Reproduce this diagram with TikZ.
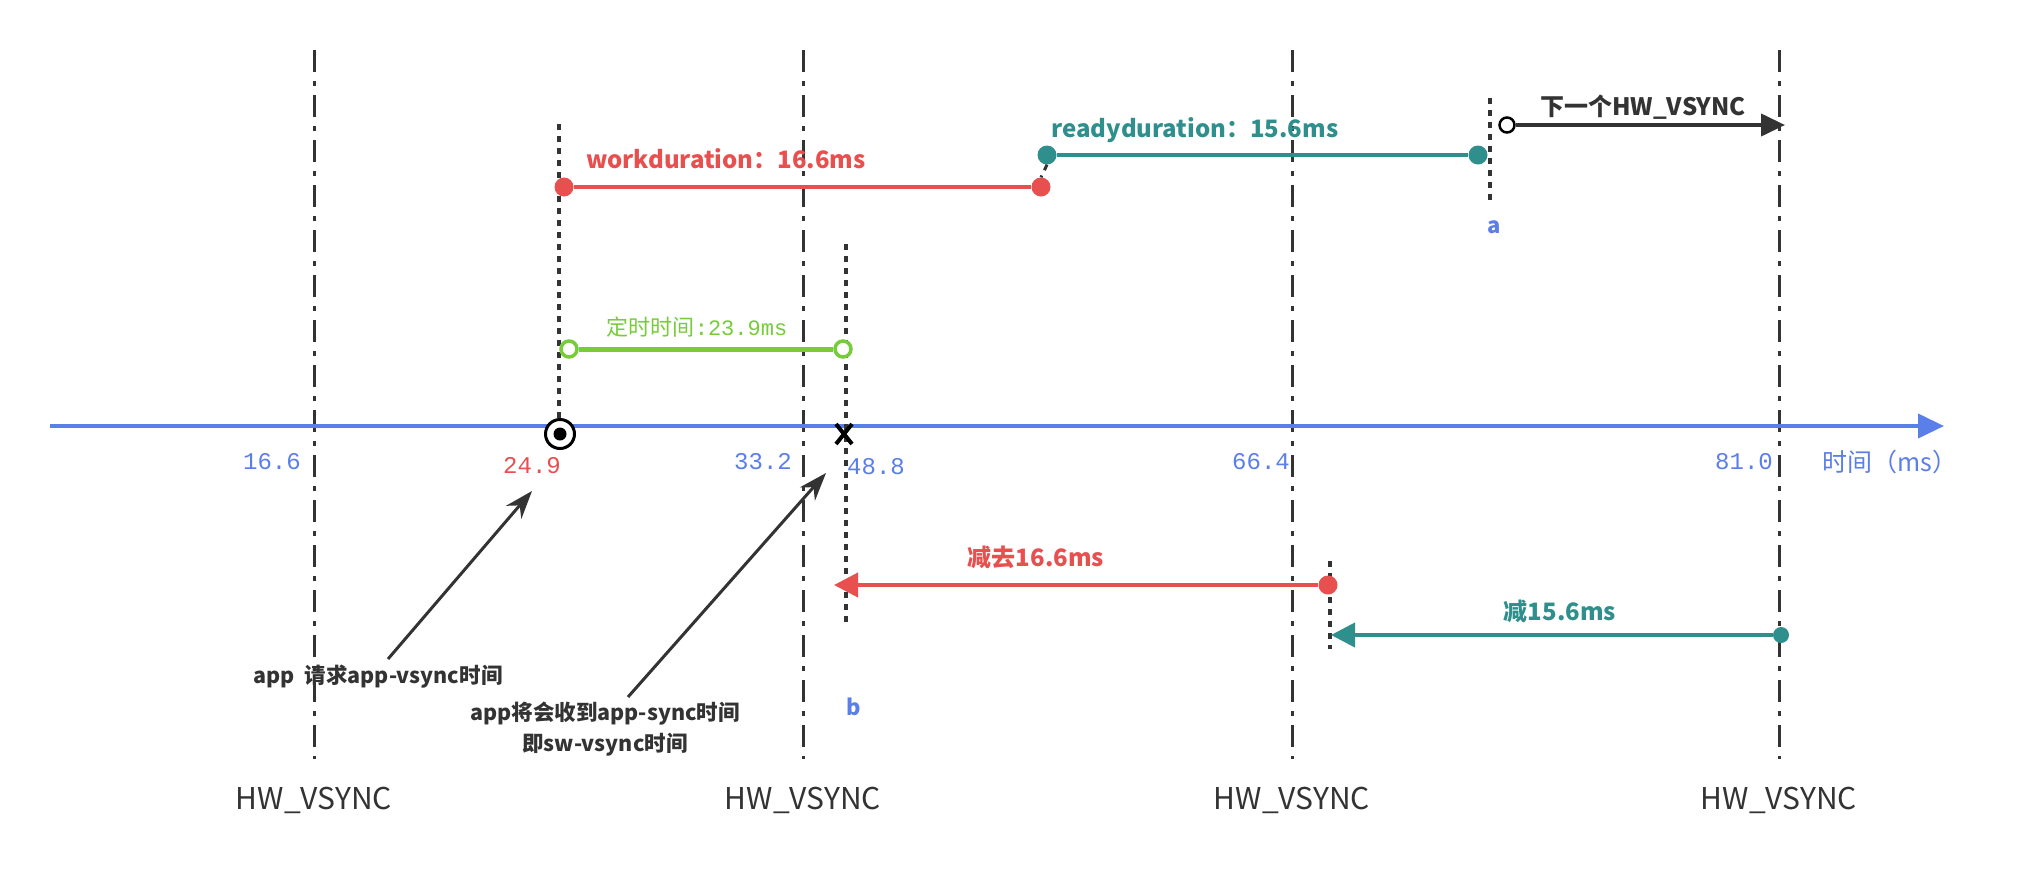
\documentclass[tikz,border=0pt]{standalone}
\usepackage{fontspec}
\setmainfont{Noto Sans CJK SC}
\newfontfamily\monofnt{Liberation Mono}
\usetikzlibrary{arrows.meta}
\definecolor{axisblue}{HTML}{5B7FE8}
\definecolor{cred}{HTML}{E84F4F}
\definecolor{cteal}{HTML}{2F8F8C}
\definecolor{cgreen}{HTML}{77CC3A}
\definecolor{cdark}{HTML}{333333}
\begin{document}
\begin{tikzpicture}[x=1pt,y=-1pt,
  vsyncline/.style={line width=3pt, cdark, dash pattern=on 22pt off 9pt on 5pt off 9pt},
  dotline/.style={line width=3.5pt, cdark, dash pattern=on 6pt off 6pt},
  dotnode/.style={circle, inner sep=0pt, minimum size=19pt},
  odotnode/.style={circle, fill=white, line width=3.5pt, inner sep=0pt, minimum size=16pt},
  pt/.style={inner sep=0pt, minimum size=0pt},
  hwlabel/.style={font=\fontsize{30}{34}\selectfont, text=cdark},
  numlabel/.style={font=\monofnt\fontsize{24}{28}\selectfont, text=axisblue},
  boldlabel/.style={font=\bfseries\fontsize{24}{28}\selectfont},
  annot/.style={font=\bfseries\fontsize{21.5}{31}\selectfont, text=cdark, align=center},
  seg/.style={line width=4pt}
]
\useasboundingbox (0,0) rectangle (2044,892);
\fill[white] (0,0) rectangle (2044,892);

% vertical HW_VSYNC lines
\foreach \x/\n in {314/v1,803/v2,1292/v3,1779/v4}{
  \coordinate (\n t) at (\x,50);
  \coordinate (\n b) at (\x,759);
  \draw[vsyncline] (\n t) -- (\n b);
  \node[hwlabel] (\n l) at (\x,800) {HW\_VSYNC};
}

% axis
\coordinate (axs) at (50,426);
\coordinate (axe) at (1944,426);
\draw[axisblue, line width=4pt, -{Triangle[length=26pt,width=24pt]}] (axs) -- (axe);

% axis labels
\node[numlabel] (n1) at (272,462) {16.6};
\node[numlabel, text=cred] (n2) at (532,466) {24.9};
\node[numlabel] (n3) at (763,462) {33.2};
\node[numlabel] (n4) at (876,467) {48.8};
\node[numlabel] (n5) at (1261,462) {66.4};
\node[numlabel] (n6) at (1744,462) {81.0};
\node[font=\fontsize{25}{28}\selectfont, text=axisblue] (unit) at (1890,462) {时间（ms）};

% dotted line at 24.9
\coordinate (d1t) at (559,124);
\coordinate (d1b) at (559,428);
\draw[dotline] (d1t) -- (d1b);
% target symbol
\node[circle, draw=black, line width=3pt, fill=white, inner sep=0pt, minimum size=29pt] (target) at (560,434) {};
\node[circle, fill=black, inner sep=0pt, minimum size=13pt] (targetc) at (560,434) {};

% dotted line at 48.8
\coordinate (d2t) at (846,244);
\coordinate (d2b) at (846,623);
\draw[dotline] (d2t) -- (d2b);
% cross
\node[pt] (cross) at (844,434) {};
\draw[line width=4pt, black] ([shift={(-8,-10)}]cross.center) -- ([shift={(8,10)}]cross.center)
  ([shift={(-8,10)}]cross.center) -- ([shift={(8,-10)}]cross.center);

% workduration (red)
\node[dotnode, fill=cred] (w1) at (564,187) {};
\node[dotnode, fill=cred] (w2) at (1041,187) {};
\draw[cred, seg] (w1) -- (w2);
\node[boldlabel, text=cred] (wl) at (726,159) {workduration：16.6ms};

% readyduration (teal)
\node[dotnode, fill=cteal] (r1) at (1047,155) {};
\node[dotnode, fill=cteal] (r2) at (1478,155) {};
\draw[cteal, seg] (r1) -- (r2);
\node[boldlabel, text=cteal] (rl) at (1195,130) {readyduration：15.6ms};
\draw[dotline, line width=3pt] (r1.south) -- (w2.north);

% point a
\coordinate (dat) at (1490,98);
\coordinate (dab) at (1490,202);
\draw[dotline] (dat) -- (dab);
\node[font=\bfseries\fontsize{22}{26}\selectfont, text=axisblue] (la) at (1494,227) {a};

% next HW_VSYNC arrow
\node[circle, draw=black, fill=white, line width=2.5pt, inner sep=0pt, minimum size=15pt] (nx) at (1507,125) {};
\coordinate (nxe) at (1785,125);
\draw[cdark, line width=4pt, -{Triangle[length=24pt,width=22pt]}] (nx) -- (nxe);
\node[boldlabel, text=cdark] (nxl) at (1643,107) {下一个HW\_VSYNC};

% timer (green)
\node[odotnode, draw=cgreen] (g1) at (569,349) {};
\node[odotnode, draw=cgreen] (g2) at (843,349) {};
\draw[cgreen, line width=5pt] (g1) -- (g2);
\node[font=\fontsize{22}{26}\selectfont, text=cgreen] (gl) at (697,327) {定时时间{\monofnt :23.9ms}};

% annotations
\node[annot] (ann1) at (378,677) {app\ \ 请求app-vsync时间};
\node[annot] (ann2) at (605,729) {app将会收到app-sync时间\\即sw-vsync时间};
\coordinate (a1e) at (532,491);
\coordinate (a2e) at (826,473);
\draw[cdark, line width=3pt, -{Stealth[length=28pt,width=20pt]}] (388,659) -- (a1e);
\draw[cdark, line width=3pt, -{Stealth[length=28pt,width=20pt]}] (628,697) -- (a2e);
\node[font=\bfseries\fontsize{22}{26}\selectfont, text=axisblue] (lb) at (854,707) {b};

% subtract 16.6 (red)
\coordinate (d3t) at (1330,561);
\coordinate (d3b) at (1330,649);
\draw[dotline] (d3t) -- (d3b);
\node[dotnode, fill=cred] (s1) at (1328,585) {};
\coordinate (s1e) at (834,585);
\draw[cred, seg, -{Triangle[length=24pt,width=24pt]}] (s1) -- (s1e);
\node[boldlabel, text=cred] (s1l) at (1036,557) {减去16.6ms};

% subtract 15.6 (teal)
\node[dotnode, fill=cteal, minimum size=16pt] (s2) at (1781,635) {};
\coordinate (s2e) at (1331,635);
\draw[cteal, seg, -{Triangle[length=24pt,width=24pt]}] (s2) -- (s2e);
\node[boldlabel, text=cteal] (s2l) at (1560,611) {减15.6ms};
\end{tikzpicture}
\end{document}
